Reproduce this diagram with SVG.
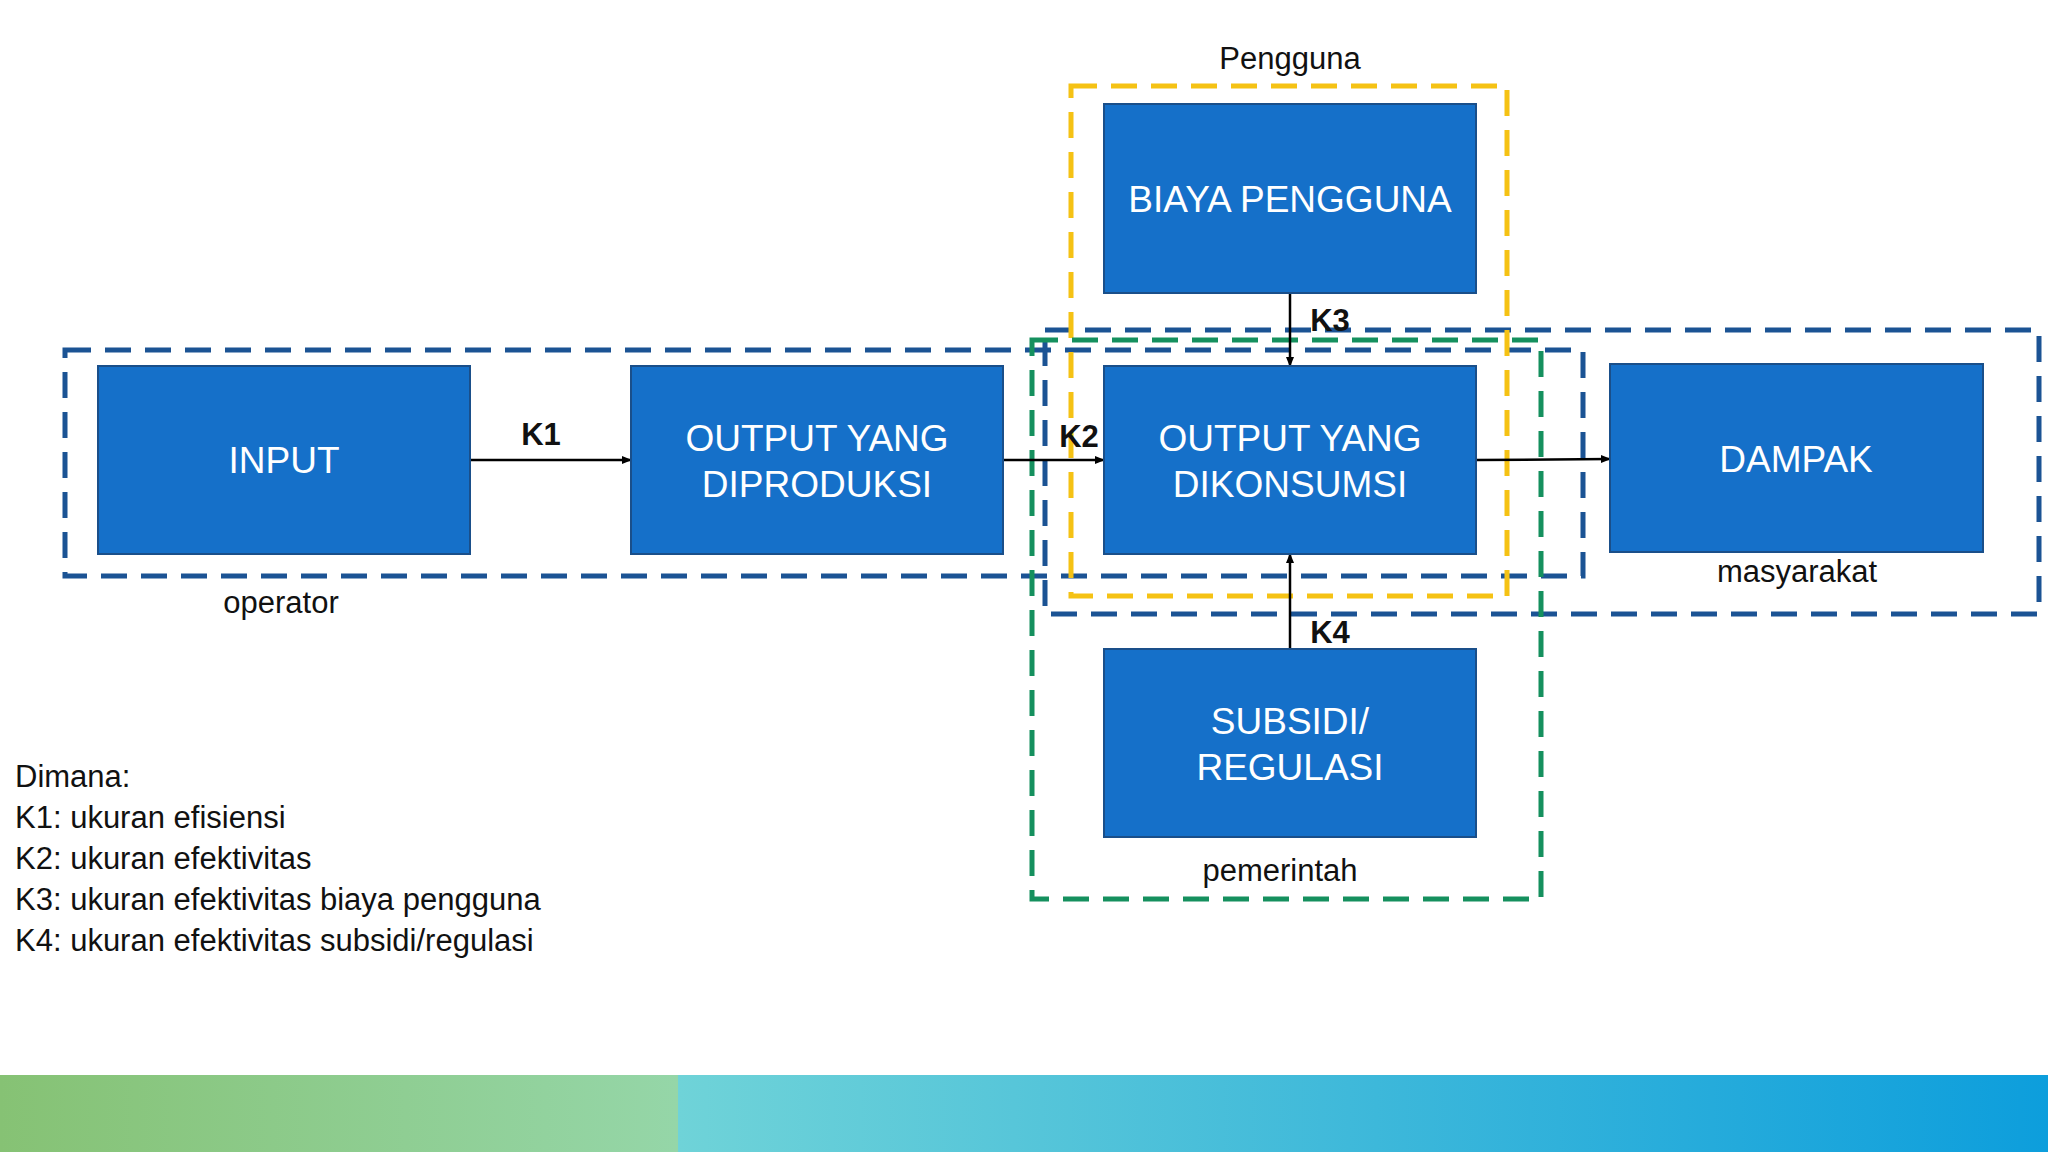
<svg xmlns="http://www.w3.org/2000/svg" width="2048" height="1152" viewBox="0 0 2048 1152">
<defs>
<style>
.box{fill:#1570C9;stroke:#1a4f8a;stroke-width:2}
.bt{font-family:"Liberation Sans",Arial,sans-serif;font-size:37px;fill:#fff;text-anchor:middle}
.lb{font-family:"Liberation Sans",Arial,sans-serif;font-size:31px;fill:#111;text-anchor:middle}
.k{font-family:"Liberation Sans",Arial,sans-serif;font-size:31px;font-weight:bold;fill:#111;text-anchor:middle}
.lg{font-family:"Liberation Sans",Arial,sans-serif;font-size:31px;fill:#111}
.d{fill:none;stroke-width:5;stroke-dasharray:26 14}
.c{stroke:#000;stroke-width:2.5;fill:none;marker-end:url(#ah)}
</style>
<marker id="ah" markerWidth="10" markerHeight="10" refX="9" refY="5" orient="auto" markerUnits="userSpaceOnUse"><path d="M0,1 L10,5 L0,9 z" fill="#000"/></marker>
<linearGradient id="g1" x1="0" y1="0" x2="1" y2="0"><stop offset="0" stop-color="#86c274"/><stop offset="1" stop-color="#95d6a8"/></linearGradient>
<linearGradient id="g2" x1="0" y1="0" x2="1" y2="0"><stop offset="0" stop-color="#6fd3d8"/><stop offset="1" stop-color="#0d9edc"/></linearGradient>
</defs>
<rect width="2048" height="1152" fill="#fff"/>
<g id="groups">
<rect class="d" x="65" y="350" width="1518" height="226" stroke="#1b5394"/>
<rect class="d" x="1045" y="330" width="994" height="284" stroke="#1b5394"/>
<rect class="d" x="1071" y="86" width="436" height="510" stroke="#F5C214"/>
<rect class="d" x="1032" y="340" width="509" height="559" stroke="#15905e"/>
</g>
<g id="connectors">
<line class="c" x1="470" y1="460" x2="631" y2="460"/>
<line class="c" x1="1003" y1="460" x2="1104" y2="460"/>
<line class="c" x1="1476" y1="460" x2="1610" y2="459"/>
<line class="c" x1="1290" y1="293" x2="1290" y2="366"/>
<line class="c" x1="1290" y1="649" x2="1290" y2="554"/>
<text class="k" x="541" y="445">K1</text>
<text class="k" x="1079" y="447">K2</text>
<text class="k" x="1330" y="331">K3</text>
<text class="k" x="1330" y="643">K4</text>
</g>
<g id="input"><rect class="box" x="98" y="366" width="372" height="188"/><text class="bt" x="284" y="473">INPUT</text></g>
<g id="produksi"><rect class="box" x="631" y="366" width="372" height="188"/><text class="bt" x="817" y="451">OUTPUT YANG</text><text class="bt" x="817" y="497">DIPRODUKSI</text></g>
<g id="konsumsi"><rect class="box" x="1104" y="366" width="372" height="188"/><text class="bt" x="1290" y="451">OUTPUT YANG</text><text class="bt" x="1290" y="497">DIKONSUMSI</text></g>
<g id="dampak"><rect class="box" x="1610" y="364" width="373" height="188"/><text class="bt" x="1796" y="472">DAMPAK</text></g>
<g id="biaya"><rect class="box" x="1104" y="104" width="372" height="189"/><text class="bt" x="1290" y="212">BIAYA PENGGUNA</text></g>
<g id="subsidi"><rect class="box" x="1104" y="649" width="372" height="188"/><text class="bt" x="1290" y="734">SUBSIDI/</text><text class="bt" x="1290" y="780">REGULASI</text></g>
<g id="labels">
<text class="lb" x="1290" y="69">Pengguna</text>
<text class="lb" x="281" y="613">operator</text>
<text class="lb" x="1797" y="582">masyarakat</text>
<text class="lb" x="1280" y="881">pemerintah</text>
</g>
<g id="legend">
<text class="lg" x="15" y="787">Dimana:</text>
<text class="lg" x="15" y="828">K1: ukuran efisiensi</text>
<text class="lg" x="15" y="869">K2: ukuran efektivitas</text>
<text class="lg" x="15" y="910">K3: ukuran efektivitas biaya pengguna</text>
<text class="lg" x="15" y="951">K4: ukuran efektivitas subsidi/regulasi</text>
</g>
<rect x="0" y="1075" width="678" height="77" fill="url(#g1)"/>
<rect x="678" y="1075" width="1370" height="77" fill="url(#g2)"/>
</svg>
